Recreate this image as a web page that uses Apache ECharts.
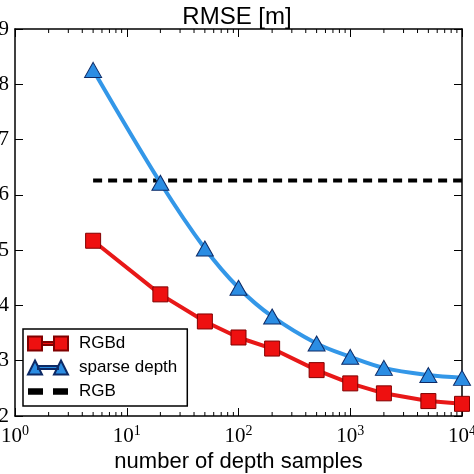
<!DOCTYPE html>
<html>
<head>
<meta charset="utf-8">
<script src="https://cdn.jsdelivr.net/npm/echarts@6/dist/echarts.min.js"></script>
<style>
  html, body { margin: 0; padding: 0; background: #fff; }
  #chart { width: 474px; height: 474px; }
</style>
</head>
<body>
<div id="chart"></div>
<script>
// number of depth samples
const samples = [5, 20, 50, 100, 200, 500, 1000, 2000, 5000, 10000];
const rgbd = [0.517, 0.420, 0.371, 0.342, 0.322, 0.283, 0.259, 0.241, 0.227, 0.222];
const sparseDepth = [0.826, 0.622, 0.503, 0.432, 0.380, 0.331, 0.307, 0.287, 0.274, 0.269];
const rgbLevel = 0.626;
const minorTicks = [2, 3, 4, 5, 6, 7, 8, 9, 20, 30, 40, 50, 60, 70, 80, 90,
    200, 300, 400, 500, 600, 700, 800, 900, 2000, 3000, 4000, 5000, 6000, 7000, 8000, 9000];

const serif = '"Liberation Serif", "DejaVu Serif", serif';
const sans = '"Liberation Sans", Arial, sans-serif';

function pairs(xs, ys) {
    return xs.map(function (x, i) { return [x, ys[i]]; });
}

const chartDom = document.getElementById('chart');
const myChart = echarts.init(chartDom, null, {renderer: 'canvas'});

const axisLine = {show: true, lineStyle: {color: '#000', width: 1.5}};

const option = {
    animation: false,
    backgroundColor: '#fff',
    title: {
        text: 'RMSE [m]',
        left: 'center',
        top: 0,
        textStyle: {fontFamily: sans, fontSize: 24, fontWeight: 'normal', color: '#000'}
    },
    grid: {left: 15, right: 12, top: 29, bottom: 58, containLabel: false, outerBoundsMode: 'none'},
    legend: {
        left: 23,
        top: 329,
        orient: 'vertical',
        width: 164,
        padding: [6, 10, 6, 4],
        itemGap: 7,
        itemWidth: 40,
        itemHeight: 15,
        borderColor: '#000',
        borderWidth: 1.5,
        backgroundColor: '#fff',
        textStyle: {fontFamily: sans, fontSize: 17, color: '#000', padding: [0, 0, 0, 6]},
        data: [
            {name: 'RGBd', icon: 'path://M0,0H14V14H0Z M14,5.5H26V8.5H14Z M26,0H40V14H26Z'},
            {name: 'sparse depth', icon: 'path://M7,0L14,14H0Z M10,5.5H30V8.5H10Z M33,0L40,14H26Z'},
            {name: 'RGB', icon: 'path://M8,5H17V9H8Z M23,5H32V9H23Z'}
        ]
    },
    xAxis: [{
        type: 'log',
        logBase: 10,
        min: 1,
        max: 10000,
        name: 'number of depth samples',
        nameLocation: 'middle',
        nameGap: 34,
        nameTextStyle: {fontFamily: sans, fontSize: 22, color: '#000'},
        axisLine: axisLine,
        axisTick: {inside: true, length: 8, lineStyle: {color: '#000', width: 1}},
        splitLine: {show: false},
        axisLabel: {
            margin: 8,
            formatter: function (v) {
                return '{b|10}{s|' + Math.round(Math.log10(v)) + '}';
            },
            rich: {
                b: {fontFamily: serif, fontSize: 21, color: '#000', lineHeight: 24},
                s: {fontFamily: serif, fontSize: 14, color: '#000', verticalAlign: 'top', lineHeight: 14}
            }
        }
    }, {
        type: 'log',
        logBase: 10,
        min: 1,
        max: 10000,
        position: 'top',
        axisLine: axisLine,
        axisTick: {inside: true, length: 8, lineStyle: {color: '#000', width: 1}},
        axisLabel: {show: false},
        splitLine: {show: false}
    }],
    yAxis: [{
        type: 'value',
        min: 0.2,
        max: 0.9,
        interval: 0.1,
        axisLine: axisLine,
        axisTick: {show: true, inside: true, length: 8, lineStyle: {color: '#000', width: 1}},
        splitLine: {show: false},
        axisLabel: {
            margin: 6,
            fontFamily: serif,
            fontSize: 21,
            color: '#000',
            formatter: function (v) { return v.toFixed(1); }
        }
    }, {
        type: 'value',
        min: 0.2,
        max: 0.9,
        interval: 0.1,
        position: 'right',
        axisLine: axisLine,
        axisTick: {show: true, inside: true, length: 8, lineStyle: {color: '#000', width: 1}},
        splitLine: {show: false},
        axisLabel: {show: false}
    }],
    series: [
        {
            name: 'RGB',
            type: 'line',
            z: 1,
            data: [[samples[0], rgbLevel], [samples[samples.length - 1], rgbLevel]],
            showSymbol: false,
            symbol: 'none',
            itemStyle: {color: '#000'},
            lineStyle: {color: '#000', width: 4, type: [9, 6]}
        },
        {
            name: 'RGBd',
            type: 'line',
            z: 3,
            data: pairs(samples, rgbd),
            symbol: 'rect',
            symbolSize: 15,
            itemStyle: {color: '#ee1010', borderColor: '#800000', borderWidth: 1},
            lineStyle: {color: '#e81818', width: 4}
        },
        {
            name: 'sparse depth',
            type: 'line',
            z: 2,
            smooth: 0.35,
            data: pairs(samples, sparseDepth),
            symbol: 'triangle',
            symbolSize: [17, 15],
            itemStyle: {color: '#2b8de3', borderColor: '#0d2a66', borderWidth: 1},
            lineStyle: {color: '#3397e8', width: 4}
        },
        {
            name: 'minor ticks',
            type: 'custom',
            silent: true,
            clip: false,
            z: 5,
            data: minorTicks,
            renderItem: function (params, api) {
                const x = api.value(0);
                const lo = api.coord([x, 0.2]);
                const hi = api.coord([x, 0.9]);
                const style = {stroke: '#000', lineWidth: 1};
                return {
                    type: 'group',
                    children: [
                        {type: 'line', shape: {x1: lo[0], y1: lo[1], x2: lo[0], y2: lo[1] - 4}, style: style},
                        {type: 'line', shape: {x1: hi[0], y1: hi[1], x2: hi[0], y2: hi[1] + 4}, style: style}
                    ]
                };
            },
            encode: {x: 0}
        }
    ]
};

option && myChart.setOption(option);
window.addEventListener('resize', function () {
    if (myChart != null) {
        myChart.resize();
    }
});
</script>
</body>
</html>
